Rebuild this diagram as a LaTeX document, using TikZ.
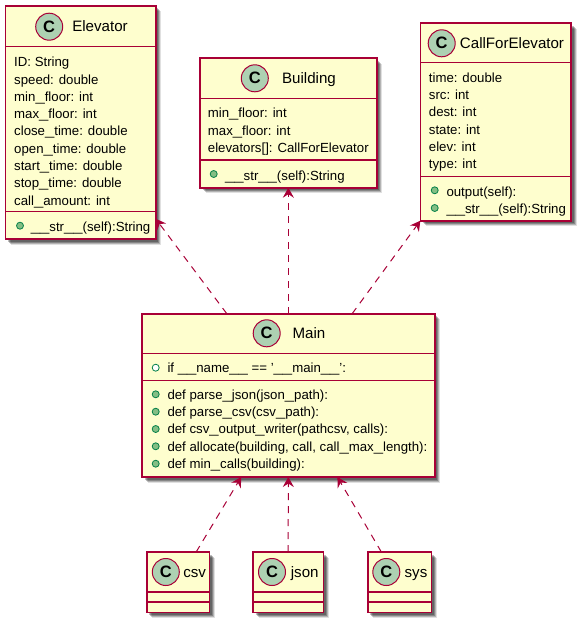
\documentclass[tikz,border=0pt]{standalone}
\usepackage{fontspec}
\setmainfont{Liberation Sans}
\usepackage{graphicx}
\usetikzlibrary{arrows.meta,shadows}
\definecolor{umlred}{HTML}{A80036}
\definecolor{umlfill}{HTML}{FEFECE}
\definecolor{umlicon}{HTML}{ADD1B2}
\definecolor{umlgreen}{HTML}{038048}
\definecolor{umldot}{HTML}{84BE84}
\newcommand{\us}{\scalebox{1.26}[1]{\_}}
\newcommand{\ustr}{\us\us str\us\us(self):String}
\tikzset{
  classbox/.style={draw=umlred,fill=umlfill,line width=1.6pt,inner sep=0pt,outer sep=0pt,
    drop shadow={shadow xshift=2.5pt,shadow yshift=-2.5pt,opacity=.25,fill=black},
    drop shadow={shadow xshift=3.5pt,shadow yshift=-3.5pt,opacity=.25,fill=black},
    drop shadow={shadow xshift=4.5pt,shadow yshift=-4.5pt,opacity=.2,fill=black},
    drop shadow={shadow xshift=5.5pt,shadow yshift=-5.5pt,opacity=.12,fill=black}},
  classicon/.style={circle,draw=umlred,fill=umlicon,line width=1pt,minimum size=27pt,inner sep=0pt,
    font=\fontsize{16.5}{16.5}\selectfont\bfseries},
  classtitle/.style={inner sep=0pt,text height=13.6pt,text depth=3pt,font=\fontsize{15.1}{17}\selectfont},
  member/.style={anchor=base west,inner sep=0pt,align=left,font=\fontsize{13.23}{17.3}\selectfont},
  sepline/.style={draw=umlred,line width=1.4pt},
  methdot/.style={draw=umlgreen,fill=umldot,line width=.8pt},
  fielddot/.style={draw=umlgreen,fill=white,line width=.8pt},
  dep/.style={draw=umlred,line width=1pt,dash pattern=on 7pt off 6pt,
    -{Stealth[length=10pt,width=11pt,inset=3.5pt]}}
}
\begin{document}
\begin{tikzpicture}[x=1pt,y=-1pt]
  \useasboundingbox (0,0) rectangle (587,626);
  % upper row
  \node[classbox,minimum width=150.4pt,minimum height=233pt] (elevator) at (80.5,122.5) {};
  \draw[sepline] (elevator.west |- 0,46.7) -- (elevator.east |- 0,46.7);
  \draw[sepline] (elevator.west |- 0,211.7) -- (elevator.east |- 0,211.7);
  \node[classicon] (elevatorc) at (49.2,26.7) {C};
  \node[classtitle] (elevatortitle) at (100,26.7) {Elevator};
  \node[member] (elevatorattrs) at (14,205.1) {ID: String\\speed: double\\min\us floor: int\\max\us floor: int\\close\us time: double\\open\us time: double\\start\us time: double\\stop\us time: double\\call\us amount: int};
  \draw[methdot] (20,225.7) circle(3.5);
  \node[member] (elevatormeths) at (30.7,231.7) {\ustr};

  \node[classbox,minimum width=176.7pt,minimum height=129.4pt] (building) at (288.35,123) {};
  \draw[sepline] (building.west |- 0,98.3) -- (building.east |- 0,98.3);
  \draw[sepline] (building.west |- 0,160) -- (building.east |- 0,160);
  \node[classicon] (buildingc) at (254.8,78.3) {C};
  \node[classtitle] (buildingtitle) at (309,78.3) {Building};
  \node[member] (buildingattrs) at (207.7,152.3) {min\us floor: int\\max\us floor: int\\elevators[]: CallForElevator};
  \draw[methdot] (213.7,174) circle(3.5);
  \node[member] (buildingmeths) at (225,180) {\ustr};

  \node[classbox,minimum width=150.7pt,minimum height=197.4pt] (call) at (495.7,122) {};
  \draw[sepline] (call.west |- 0,62.7) -- (call.east |- 0,62.7);
  \draw[sepline] (call.west |- 0,176.7) -- (call.east |- 0,176.7);
  \node[classicon] (callc) at (441.7,43.3) {C};
  \node[classtitle] (calltitle) at (512,43.3) {CallForElevator};
  \node[member] (callattrs) at (428.7,168.8) {time: double\\src: int\\dest: int\\state: int\\elev: int\\type: int};
  \foreach \y in {190.3,208} \draw[methdot] (434.7,\y) circle(3.5);
  \node[member] (callmeths) at (446.3,213.3) {output(self):\\\ustr};

  % main class
  \node[classbox,minimum width=292.7pt,minimum height=163.3pt] (main) at (288.35,395.35) {};
  \draw[sepline] (main.west |- 0,353.3) -- (main.east |- 0,353.3);
  \draw[sepline] (main.west |- 0,380.7) -- (main.east |- 0,380.7);
  \node[classicon] (mainc) at (266.7,333.3) {C};
  \node[classtitle] (maintitle) at (309,333.3) {Main};
  \draw[fielddot] (155.7,367.7) circle(3.5);
  \node[member] (mainattrs) at (167.3,372.7) {if \us\us name\us\us{} == '\us\us main\us\us':};
  \foreach \y in {394.3,411.7,429,446.3,463.7} \draw[methdot] (155.7,\y) circle(3.5);
  \node[member] (mainmeths) at (167.3,468.5) {def parse\us json(json\us path):\\def parse\us csv(csv\us path):\\def csv\us output\us writer(pathcsv, calls):\\def allocate(building, call, call\us max\us length):\\def min\us calls(building):};

  % lower row
  \node[classbox,minimum width=62.6pt,minimum height=60.3pt] (csv) at (178,582.2) {};
  \draw[sepline] (csv.west |- 0,592) -- (csv.east |- 0,592);
  \draw[sepline] (csv.west |- 0,602) -- (csv.east |- 0,602);
  \node[classicon] (csvc) at (165.8,572) {C};
  \node[classtitle] (csvtitle) at (194.6,572) {csv};

  \node[classbox,minimum width=70.3pt,minimum height=60.3pt] (json) at (288.15,582.2) {};
  \draw[sepline] (json.west |- 0,592) -- (json.east |- 0,592);
  \draw[sepline] (json.west |- 0,602) -- (json.east |- 0,602);
  \node[classicon] (jsonc) at (272,572) {C};
  \node[classtitle] (jsontitle) at (304.7,572) {json};

  \node[classbox,minimum width=63.6pt,minimum height=60.3pt] (sys) at (399.5,582.2) {};
  \draw[sepline] (sys.west |- 0,592) -- (sys.east |- 0,592);
  \draw[sepline] (sys.west |- 0,602) -- (sys.east |- 0,602);
  \node[classicon] (sysc) at (386.3,572) {C};
  \node[classtitle] (systitle) at (416,572) {sys};

  % dependencies
  \draw[dep] (main.127.3) -- (elevator.-52.8);
  \draw[dep] (main.north) -- (building.south);
  \draw[dep] (main.52.7) -- (call.south west);
  \draw[dep] (csv.59.2) -- (main.-120.95);
  \draw[dep] (json.north) -- (main.south);
  \draw[dep] (sys.121.5) -- (main.-59.05);
\end{tikzpicture}
\end{document}
